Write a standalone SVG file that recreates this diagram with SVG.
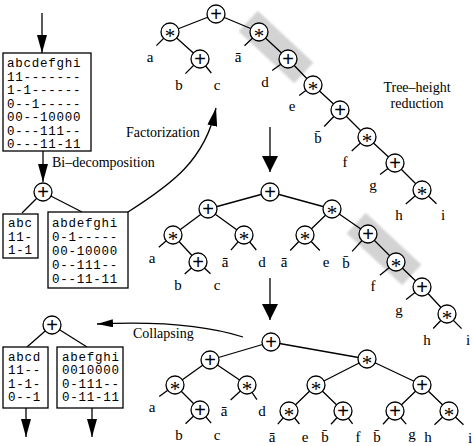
<svg xmlns="http://www.w3.org/2000/svg" width="474" height="446" viewBox="0 0 474 446">
<style>
.e{stroke:#000;stroke-width:1.3;fill:none}
.n circle{fill:#fff;stroke:#000;stroke-width:1.3}
.plus{font-family:"Liberation Sans",Arial,sans-serif;font-size:20px;text-anchor:middle}
.ast{font-family:"Liberation Serif","Times New Roman",serif;font-size:21px;text-anchor:middle}
.lf{font-family:"Liberation Serif","Times New Roman",serif;font-size:15px;text-anchor:middle}
.lab{font-family:"Liberation Serif","Times New Roman",serif;font-size:14px}
.mono{font-family:"Liberation Mono","Courier New",monospace;font-size:12.5px;letter-spacing:0.76px}
.box{fill:#fff;stroke:#000;stroke-width:1.3}
.shade{fill:#d3d3d3;filter:url(#blur)}
</style>
<defs>
<filter id="blur" x="-20%" y="-20%" width="140%" height="140%"><feGaussianBlur stdDeviation="1"/></filter>
<marker id="ah" viewBox="0 0 18 10" refX="18" refY="5" markerWidth="18" markerHeight="10" markerUnits="userSpaceOnUse" orient="auto"><path d="M0,0 L18,5 L0,10 z" fill="#000"/></marker>
<marker id="ahs" viewBox="0 0 16 8" refX="16" refY="4" markerWidth="16" markerHeight="8" markerUnits="userSpaceOnUse" orient="auto"><path d="M0,0 L16,4 L0,8 z" fill="#000"/></marker>
<marker id="big" viewBox="0 0 16 16" refX="16" refY="8" markerWidth="16" markerHeight="16" markerUnits="userSpaceOnUse" orient="auto"><path d="M0,0 L16,8 L0,16 z" fill="#000"/></marker>
</defs>

<!-- shaded regions -->
<rect class="shade" x="-38" y="-14" width="76" height="28" transform="translate(276,47) rotate(43)"/>
<rect class="shade" x="-38" y="-14" width="76" height="28" transform="translate(384,249) rotate(43)"/>

<g id="connectors">
<!-- left flow -->
<line class="e" x1="42" y1="13" x2="42" y2="53" marker-end="url(#ah)"/>
<line class="e" x1="43" y1="151" x2="43" y2="182" marker-end="url(#ah)"/>
<line class="e" x1="43" y1="192" x2="22" y2="213"/>
<line class="e" x1="43" y1="192" x2="82" y2="212"/>
<path class="e" d="M128,212 C172,184 205,160 216,108" marker-end="url(#ah)"/>
<line class="e" x1="270" y1="127" x2="270" y2="172" stroke-width="2.4" stroke="#000" marker-end="url(#big)"/>
<line class="e" x1="270" y1="278" x2="270" y2="320" stroke-width="2.4" stroke="#000" marker-end="url(#big)"/>
<path class="e" d="M243,337 C205,325 160,321 97,324" marker-end="url(#ahs)"/>
<line class="e" x1="52" y1="325" x2="27" y2="347"/>
<line class="e" x1="52" y1="325" x2="87" y2="347"/>
<line class="e" x1="26" y1="408" x2="26" y2="437" marker-end="url(#ah)"/>
<line class="e" x1="92" y1="408" x2="92" y2="437" marker-end="url(#ah)"/>
<!-- tree 1 -->
<path class="e" d="M216,14 L170,32 M216,14 L259,32 M170,32 L200,59 M259,32 L288,59 L313,85 L340,110 L367,137 L395,163 L422,190"/>
<path class="e" d="M170,32 L156.4,45.6 M200,59 L185.4,73.6 M200,59 L211.3,73 M259,32 L244.5,45.8 M288,59 L272.2,70.6 M313,85 L299.2,95.5 M340,110 L324.2,126.5 M367,137 L351.7,150.9 M395,163 L380.1,174.5 M422,190 L405.8,204.1 M422,190 L436.5,203.8"/>
<!-- tree 2 -->
<path class="e" d="M270,192 L208,209 M270,192 L332,209 M208,209 L173,235 M208,209 L244,235 M173,235 L198,262 M332,209 L305,235 M332,209 L368,234 L396,262 L422,287 L447,314"/>
<path class="e" d="M173,235 L158.8,247.2 M198,262 L184.7,274 M198,262 L210.5,273.8 M244,235 L230.9,250.2 M244,235 L256.3,250 M305,235 L290.2,250.5 M305,235 L319.8,250.5 M368,234 L352.1,251.4 M396,262 L379.9,275.3 M422,287 L406.1,299.5 M447,314 L433.2,328.5 M447,314 L461.6,328.6"/>
<!-- tree 3 -->
<path class="e" d="M271,342 L210,360 M271,342 L367,359 M210,360 L175,385 M210,360 L247,385 M175,385 L200,410 M367,359 L316,385 M367,359 L422,385 M316,385 L289,411 M316,385 L343,411 M422,385 L395,411 M422,385 L449,411"/>
<path class="e" d="M175,385 L159.2,396.6 M200,410 L185.5,423.8 M200,410 L211.2,423.1 M247,385 L230.6,399.9 M247,385 L256.9,399.6 M289,411 L277.8,424.1 M289,411 L299.4,424 M343,411 L331,424.3 M343,411 L352.6,423.8 M395,411 L383,424.3 M395,411 L406.2,424.1 M449,411 L434.5,424.8 M449,411 L463.5,424.8"/>
</g>

<!-- labels -->
<text class="lab" x="52" y="167">Bi–decomposition</text>
<text class="lab" x="126" y="137">Factorization</text>
<text class="lab" x="417" y="92" text-anchor="middle">Tree–height</text>
<text class="lab" x="417" y="108" text-anchor="middle">reduction</text>
<text class="lab" x="133" y="338">Collapsing</text>

<!-- boxes -->
<g id="box-abcdefghi"><rect class="box" x="3" y="53" width="88" height="98"/>
<text class="mono"><tspan x="7" y="67">abcdefghi</tspan><tspan x="7" y="80.5">11-------</tspan><tspan x="7" y="94">1-1------</tspan><tspan x="7" y="107.5">0--1-----</tspan><tspan x="7" y="121">00--10000</tspan><tspan x="7" y="134.5">0---111--</tspan><tspan x="7" y="148">0---11-11</tspan></text></g>
<g id="box-abc"><rect class="box" x="3" y="214" width="35" height="44"/>
<text class="mono"><tspan x="8" y="227">abc</tspan><tspan x="8" y="241">11-</tspan><tspan x="8" y="254">1-1</tspan></text></g>
<g id="box-abdefghi"><rect class="box" x="48" y="212" width="80" height="76"/>
<text class="mono"><tspan x="52" y="227">abdefghi</tspan><tspan x="52" y="241">0-1-----</tspan><tspan x="52" y="254.5">00-10000</tspan><tspan x="52" y="268.5">0--111--</tspan><tspan x="52" y="282.5">0--11-11</tspan></text></g>
<g id="box-abcd"><rect class="box" x="3" y="347" width="45" height="61"/>
<text class="mono"><tspan x="8" y="361">abcd</tspan><tspan x="8" y="374">11--</tspan><tspan x="8" y="387.5">1-1-</tspan><tspan x="8" y="400.5">0--1</tspan></text></g>
<g id="box-abefghi"><rect class="box" x="57" y="347" width="66" height="61"/>
<text class="mono"><tspan x="62" y="361">abefghi</tspan><tspan x="62" y="374">0010000</tspan><tspan x="62" y="387.5">0-111--</tspan><tspan x="62" y="400.5">0-11-11</tspan></text></g>

<!-- left op nodes -->
<g id="bd-plus" class="n"><circle cx="43" cy="192" r="9"/><text class="plus" x="43" y="199">+</text></g>
<g id="col-plus" class="n"><circle cx="52" cy="325" r="9"/><text class="plus" x="52" y="332">+</text></g>

<!-- tree 1 nodes -->
<g id="t1-n1" class="n"><circle cx="216" cy="14" r="9"/><text class="plus" x="216" y="21">+</text></g>
<g id="t1-n2" class="n"><circle cx="170" cy="32" r="9"/><text class="ast" x="170" y="43">*</text></g>
<g id="t1-n3" class="n"><circle cx="200" cy="59" r="9"/><text class="plus" x="200" y="66">+</text></g>
<g id="t1-n4" class="n"><circle cx="259" cy="32" r="9"/><text class="ast" x="259" y="43">*</text></g>
<g id="t1-n5" class="n"><circle cx="288" cy="59" r="9"/><text class="plus" x="288" y="66">+</text></g>
<g id="t1-n6" class="n"><circle cx="313" cy="85" r="9"/><text class="ast" x="313" y="96">*</text></g>
<g id="t1-n7" class="n"><circle cx="340" cy="110" r="9"/><text class="plus" x="340" y="117">+</text></g>
<g id="t1-n8" class="n"><circle cx="367" cy="137" r="9"/><text class="ast" x="367" y="148">*</text></g>
<g id="t1-n9" class="n"><circle cx="395" cy="163" r="9"/><text class="plus" x="395" y="170">+</text></g>
<g id="t1-n10" class="n"><circle cx="422" cy="190" r="9"/><text class="ast" x="422" y="201">*</text></g>
<g id="t1-leaves">
<text class="lf" x="150" y="62">a</text><text class="lf" x="179" y="90">b</text><text class="lf" x="217" y="90">c</text>
<text class="lf" x="238" y="62">ā</text><text class="lf" x="265" y="87">d</text><text class="lf" x="292" y="111">e</text>
<text class="lf" x="318" y="143">b̄</text><text class="lf" x="345" y="167">f</text><text class="lf" x="373" y="190">g</text>
<text class="lf" x="399" y="220">h</text><text class="lf" x="443" y="220">i</text>
</g>

<!-- tree 2 nodes -->
<g id="t2-n1" class="n"><circle cx="270" cy="192" r="9"/><text class="plus" x="270" y="199">+</text></g>
<g id="t2-n2" class="n"><circle cx="208" cy="209" r="9"/><text class="plus" x="208" y="216">+</text></g>
<g id="t2-n3" class="n"><circle cx="332" cy="209" r="9"/><text class="ast" x="332" y="220">*</text></g>
<g id="t2-n4" class="n"><circle cx="173" cy="235" r="9"/><text class="ast" x="173" y="246">*</text></g>
<g id="t2-n5" class="n"><circle cx="244" cy="235" r="9"/><text class="ast" x="244" y="246">*</text></g>
<g id="t2-n6" class="n"><circle cx="198" cy="262" r="9"/><text class="plus" x="198" y="269">+</text></g>
<g id="t2-n7" class="n"><circle cx="305" cy="235" r="9"/><text class="ast" x="305" y="246">*</text></g>
<g id="t2-n8" class="n"><circle cx="368" cy="234" r="9"/><text class="plus" x="368" y="241">+</text></g>
<g id="t2-n9" class="n"><circle cx="396" cy="262" r="9"/><text class="ast" x="396" y="273">*</text></g>
<g id="t2-n10" class="n"><circle cx="422" cy="287" r="9"/><text class="plus" x="422" y="294">+</text></g>
<g id="t2-n11" class="n"><circle cx="447" cy="314" r="9"/><text class="ast" x="447" y="325">*</text></g>
<g id="t2-leaves">
<text class="lf" x="152" y="263">a</text><text class="lf" x="178" y="290">b</text><text class="lf" x="217" y="290">c</text>
<text class="lf" x="225" y="267">ā</text><text class="lf" x="262" y="267">d</text>
<text class="lf" x="284" y="267">ā</text><text class="lf" x="326" y="267">e</text>
<text class="lf" x="346" y="268">b̄</text><text class="lf" x="373" y="291">f</text><text class="lf" x="399" y="315">g</text>
<text class="lf" x="427" y="345">h</text><text class="lf" x="468" y="345">i</text>
</g>

<!-- tree 3 nodes -->
<g id="t3-n1" class="n"><circle cx="271" cy="342" r="9"/><text class="plus" x="271" y="349">+</text></g>
<g id="t3-n2" class="n"><circle cx="210" cy="360" r="9"/><text class="plus" x="210" y="367">+</text></g>
<g id="t3-n3" class="n"><circle cx="367" cy="359" r="9"/><text class="ast" x="367" y="370">*</text></g>
<g id="t3-n4" class="n"><circle cx="175" cy="385" r="9"/><text class="ast" x="175" y="396">*</text></g>
<g id="t3-n5" class="n"><circle cx="247" cy="385" r="9"/><text class="ast" x="247" y="396">*</text></g>
<g id="t3-n6" class="n"><circle cx="200" cy="410" r="9"/><text class="plus" x="200" y="417">+</text></g>
<g id="t3-n7" class="n"><circle cx="316" cy="385" r="9"/><text class="ast" x="316" y="396">*</text></g>
<g id="t3-n8" class="n"><circle cx="422" cy="385" r="9"/><text class="plus" x="422" y="392">+</text></g>
<g id="t3-n9" class="n"><circle cx="289" cy="411" r="9"/><text class="ast" x="289" y="422">*</text></g>
<g id="t3-n10" class="n"><circle cx="343" cy="411" r="9"/><text class="plus" x="343" y="418">+</text></g>
<g id="t3-n11" class="n"><circle cx="395" cy="411" r="9"/><text class="plus" x="395" y="418">+</text></g>
<g id="t3-n12" class="n"><circle cx="449" cy="411" r="9"/><text class="ast" x="449" y="422">*</text></g>
<g id="t3-leaves">
<text class="lf" x="152" y="412">a</text><text class="lf" x="179" y="440">b</text><text class="lf" x="217" y="440">c</text>
<text class="lf" x="224" y="416">ā</text><text class="lf" x="262" y="416">d</text>
<text class="lf" x="272" y="442">ā</text><text class="lf" x="305" y="442">e</text>
<text class="lf" x="325" y="442">b̄</text><text class="lf" x="358" y="442">f</text>
<text class="lf" x="377" y="442">b̄</text><text class="lf" x="412" y="439">g</text>
<text class="lf" x="428" y="442">h</text><text class="lf" x="470" y="443">i</text>
</g>
</svg>
